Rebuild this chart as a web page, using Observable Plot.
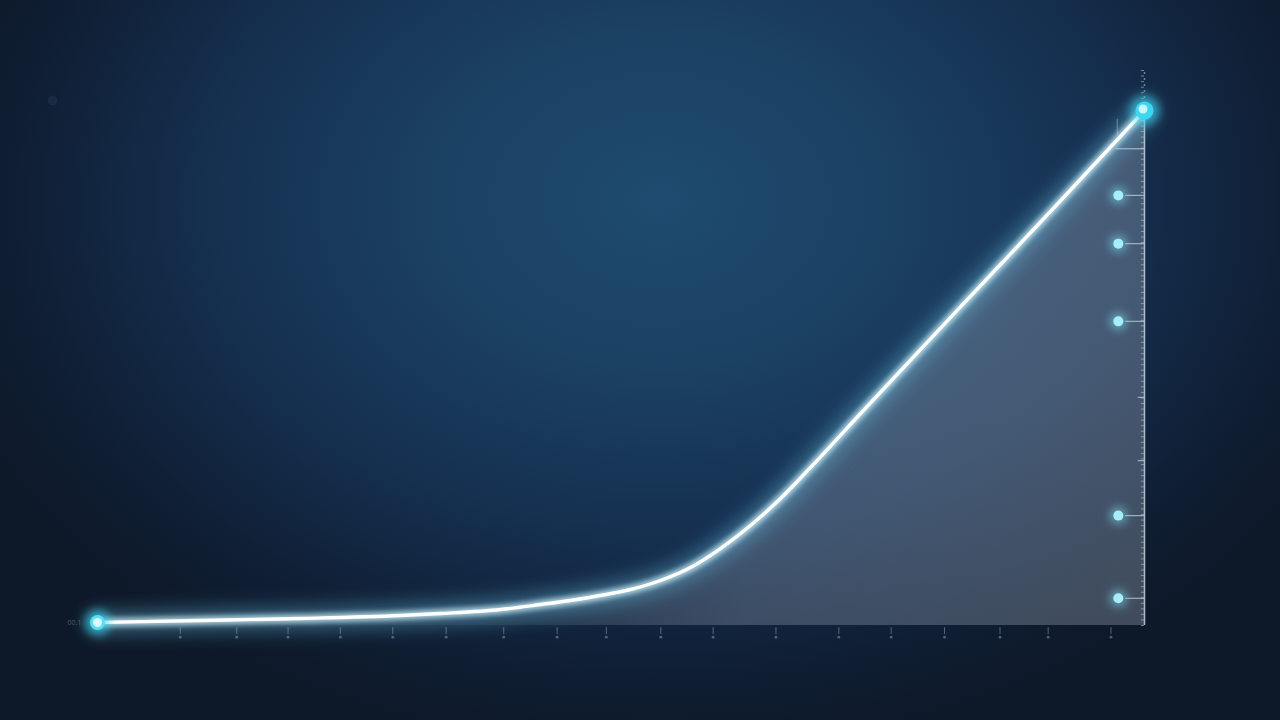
<!DOCTYPE html>
<html>
<head>
<meta charset="utf-8">
<script src="https://cdn.jsdelivr.net/npm/d3@7"></script>
<script src="https://cdn.jsdelivr.net/npm/@observablehq/plot@0.6"></script>
<style>
  html, body { margin: 0; padding: 0; background: #0e1a2c; overflow: hidden; }
  #chart svg { display: block; }
</style>
</head>
<body>
<div id="chart"></div>
<script>
// ---- data ----
const curveX = [0, 9.84, 19.39, 28.94, 32.76, 38.49, 42.31, 45.18, 48.04, 50.91, 53.77, 56.64, 59.50, 62.37, 65.23, 68.10, 72.88, 83.09, 91.02, 100];
const curveY = [0.54, 0.90, 1.26, 1.80, 2.16, 2.88, 3.78, 4.50, 5.41, 6.49, 8.11, 10.45, 13.87, 18.02, 22.88, 28.47, 38.20, 58.74, 74.59, 92.79];
const xTicks = [7.9, 13.3, 18.2, 23.2, 28.2, 33.3, 38.8, 43.9, 48.6, 53.8, 58.8, 64.8, 70.8, 75.8, 80.9, 86.2, 90.8, 96.8];
const markerY = [77.5, 68.8, 54.8, 19.8, 4.9];
const markerX = 97.5;
const sideLabelY = [41.1, 29.7];
const bracketY = [85.9];
const startLabel = ["00.1"];

const curve = curveX.map((x, i) => ({x, y: curveY[i]}));
const start = [curve[0]];
const end = [curve[curve.length - 1]];
const markers = markerY.map(y => ({x: markerX, y}));
const minorTicks = d3.ticks(0, 100, 90);

const axisColor = "#c9d6e2";
const WIDE = "#6fc8eb", NARROW = "#cdeffa", DOTGLOW = "#38d6f1", MARKGLOW = "#7fe5f6";

const svg = Plot.plot({
  width: 1280,
  height: 720,
  marginLeft: 97,
  marginRight: 136,
  marginTop: 70,
  marginBottom: 95,
  x: {domain: [0, 100], axis: null},
  y: {domain: [0, 100], axis: null},
  style: {
    background: "radial-gradient(ellipse 760px 560px at 660px 200px, #1e4b6f 0%, #1b4163 30%, #152f4f 60%, #0f1e33 85%, #0d1828 100%)",
    overflow: "visible"
  },
  marks: [
    // faint speck top-left
    Plot.dot([{x: -4.3, y: 94.6}], {x: "x", y: "y", r: 5, fill: "#5f8fb0", fillOpacity: 0.1}),
    // area under the curve
    Plot.areaY(curve, {x: "x", y: "y", curve: "monotone-x", fill: "url(#areaGrad)"}),
    // x ticks and tiny tick glyphs
    Plot.ruleX(xTicks, {x: d => d, y1: -0.4, y2: -1.6, stroke: "#8fa4b8", strokeOpacity: 0.55, strokeWidth: 1}),
    Plot.dot(xTicks, {x: d => d, y: -2.1, r: 1.4, fill: "#8fa4b8", fillOpacity: 0.5}),
    // right vertical axis
    Plot.ruleX([100], {y1: 0, y2: 92.8, stroke: axisColor, strokeOpacity: 0.85, strokeWidth: 1.5}),
    Plot.ruleX([100], {y1: 92.8, y2: 100, stroke: axisColor, strokeOpacity: 0.5, strokeWidth: 1.5, strokeDasharray: "2,4"}),
    Plot.ruleY(minorTicks, {y: d => d, x1: 99.7, x2: 100, stroke: axisColor, strokeOpacity: 0.5, strokeWidth: 1}),
    Plot.ruleY(sideLabelY, {y: d => d, x1: 99.4, x2: 100, stroke: axisColor, strokeOpacity: 0.7, strokeWidth: 1.2}),
    Plot.ruleY(bracketY, {y: d => d, x1: 97.3, x2: 100, stroke: axisColor, strokeOpacity: 0.75, strokeWidth: 1.2}),
    Plot.ruleX([97.4], {y1: 88.2, y2: 91.2, stroke: axisColor, strokeOpacity: 0.4, strokeWidth: 1.2}),
    // connectors from the markers to the axis
    Plot.ruleY(markers, {y: "y", x1: 98.2, x2: 100, stroke: axisColor, strokeOpacity: 0.7, strokeWidth: 1.2}),
    // glowing curve
    Plot.line(curve, {x: "x", y: "y", curve: "monotone-x", stroke: WIDE, strokeWidth: 24, strokeOpacity: 0.38}),
    Plot.line(curve, {x: "x", y: "y", curve: "monotone-x", stroke: NARROW, strokeWidth: 9, strokeOpacity: 0.75}),
    Plot.line(curve, {x: "x", y: "y", curve: "monotone-x", stroke: "#ffffff", strokeWidth: 3.4}),
    // markers on the right
    Plot.dot(markers, {x: "x", y: "y", r: 9, fill: MARKGLOW, fillOpacity: 0.5}),
    Plot.dot(markers, {x: "x", y: "y", r: 5, fill: "#a6eef9"}),
    // start and end points
    Plot.dot(start, {x: "x", y: "y", r: 13, fill: DOTGLOW, fillOpacity: 0.6}),
    Plot.dot(start, {x: "x", y: "y", r: 7.5, fill: "#55e0f5"}),
    Plot.dot(start, {x: "x", y: "y", r: 4.5, fill: "#d8fbff"}),
    Plot.dot(end, {x: "x", y: "y", r: 15, fill: DOTGLOW, fillOpacity: 0.6}),
    Plot.dot(end, {x: "x", y: "y", r: 9, fill: "#3cd6f1"}),
    Plot.dot(end, {x: "x", y: "y", r: 4.5, fill: "#c8f8ff", dx: -1.5, dy: -1.5}),
    // tiny faint label left of the start point
    Plot.text(startLabel, {x: 0, y: 0.54, text: d => d, dx: -16, textAnchor: "end", fontSize: 7, fill: "#8fa4b8", fillOpacity: 0.45})
  ]
});

const root = d3.select(svg);
const defs = root.insert("defs", ":first-child");
const g = defs.append("linearGradient")
  .attr("id", "areaGrad")
  .attr("gradientUnits", "userSpaceOnUse")
  .attr("x1", 97).attr("y1", 0).attr("x2", 1144).attr("y2", 0);
g.append("stop").attr("offset", "0%").attr("stop-color", "#b8c4d4").attr("stop-opacity", 0.02);
g.append("stop").attr("offset", "40%").attr("stop-color", "#b8c4d4").attr("stop-opacity", 0.08);
g.append("stop").attr("offset", "52%").attr("stop-color", "#b8c4d4").attr("stop-opacity", 0.2);
g.append("stop").attr("offset", "62%").attr("stop-color", "#b8c4d4").attr("stop-opacity", 0.26);
g.append("stop").attr("offset", "100%").attr("stop-color", "#b8c4d4").attr("stop-opacity", 0.30);

function addBlur(id, sd) {
  const f = defs.append("filter").attr("id", id)
    .attr("filterUnits", "userSpaceOnUse")
    .attr("x", -50).attr("y", -50).attr("width", 1380).attr("height", 820);
  f.append("feGaussianBlur").attr("stdDeviation", sd);
}
addBlur("blurWide", 9);
addBlur("blurNarrow", 2.5);
addBlur("blurDot", 4);

function applyFilter(attr, color, id) {
  root.selectAll(`[${attr}="${color}"]`).attr("filter", `url(#${id})`);
}
applyFilter("stroke", WIDE, "blurWide");
applyFilter("stroke", NARROW, "blurNarrow");
applyFilter("fill", DOTGLOW, "blurDot");
applyFilter("fill", MARKGLOW, "blurDot");

document.getElementById("chart").appendChild(svg);
</script>
</body>
</html>
